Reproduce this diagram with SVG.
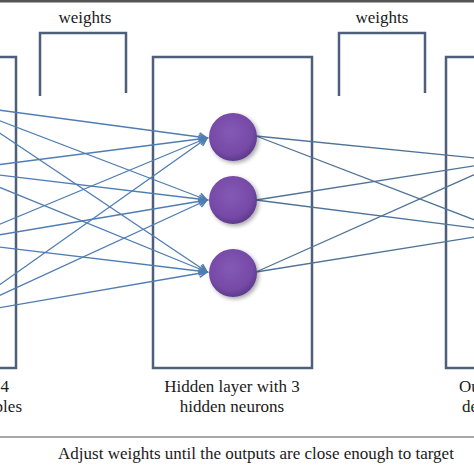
<svg xmlns="http://www.w3.org/2000/svg" width="474" height="474" viewBox="0 0 474 474">
  <style>
    .box { fill: none; stroke: #4e5f7c; stroke-width: 2.5; }
    .br { fill: none; stroke: #4e5f7c; stroke-width: 2.5; }
    .w { stroke: #4f7db2; stroke-width: 1.3; fill: none; }
    .wo { stroke: #4f7396; stroke-width: 1.3; fill: none; }
    .t { font-family: "Liberation Serif", "Times New Roman", serif; font-size: 17px; fill: #1a1a1a; }
  </style>
  <defs>
    <radialGradient id="neu" cx="0.45" cy="0.4" r="0.6">
      <stop offset="0" stop-color="#8558b6"/>
      <stop offset="0.75" stop-color="#764aa6"/>
      <stop offset="1" stop-color="#5e3a8e"/>
    </radialGradient>
    <filter id="sh" x="-30%" y="-30%" width="170%" height="170%">
      <feGaussianBlur in="SourceAlpha" stdDeviation="2"/>
      <feOffset dx="1.5" dy="2" result="b"/>
      <feComponentTransfer><feFuncA type="linear" slope="0.35"/></feComponentTransfer>
      <feMerge><feMergeNode/><feMergeNode in="SourceGraphic"/></feMerge>
    </filter>
    <marker id="arr" markerUnits="userSpaceOnUse" markerWidth="12" markerHeight="12" refX="9" refY="5" orient="auto">
      <path d="M1,1 L9,5 L1,9" fill="none" stroke="#4f7db2" stroke-width="1.6"/>
    </marker>
  </defs>

  <rect x="0" y="0" width="474" height="2.5" fill="#555"/>

  <g id="input-layer">
    <rect class="box" x="-20" y="57" width="36" height="311"/>
    <text class="t" x="9" y="392" text-anchor="end">4</text>
    <text class="t" x="22" y="412" text-anchor="end">ples</text>
  </g>

  <g id="hidden-layer">
    <rect class="box" x="153" y="57" width="159" height="311"/>
    <text class="t" x="232" y="392" text-anchor="middle">Hidden layer with 3</text>
    <text class="t" x="232" y="412" text-anchor="middle">hidden neurons</text>
  </g>

  <g id="output-layer">
    <rect class="box" x="446" y="57" width="60" height="311"/>
    <text class="t" x="459" y="392">Ou</text>
    <text class="t" x="462" y="412">de</text>
  </g>

  <g id="weights-1">
    <path class="br" d="M40,96 V33 H126 V93"/>
    <text class="t" x="85" y="23" text-anchor="middle">weights</text>
  </g>
  <g id="weights-2">
    <path class="br" d="M339,96 V33 H425 V93"/>
    <text class="t" x="382" y="23" text-anchor="middle">weights</text>
  </g>

  <g id="connectors">
    <g marker-end="url(#arr)">
      <line class="w" x1="-43" y1="104.5" x2="207" y2="138"/>
      <line class="w" x1="-43" y1="104.5" x2="207" y2="200"/>
      <line class="w" x1="-43" y1="104.5" x2="207" y2="272"/>
      <line class="w" x1="-43" y1="170" x2="207" y2="138"/>
      <line class="w" x1="-43" y1="170" x2="207" y2="200"/>
      <line class="w" x1="-43" y1="170" x2="207" y2="272"/>
      <line class="w" x1="-43" y1="242" x2="207" y2="138"/>
      <line class="w" x1="-43" y1="242" x2="207" y2="200"/>
      <line class="w" x1="-43" y1="242" x2="207" y2="272"/>
      <line class="w" x1="-43" y1="315" x2="207" y2="138"/>
      <line class="w" x1="-43" y1="315" x2="207" y2="200"/>
      <line class="w" x1="-43" y1="315" x2="207" y2="272"/>
    </g>
    <line class="wo" x1="256" y1="136" x2="505" y2="161"/>
    <line class="wo" x1="256" y1="200" x2="505" y2="161"/>
    <line class="wo" x1="256" y1="272" x2="505" y2="161"/>
    <line class="wo" x1="256" y1="136" x2="506" y2="232"/>
    <line class="wo" x1="256" y1="200" x2="506" y2="232"/>
    <line class="wo" x1="256" y1="272" x2="506" y2="232"/>
  </g>

  <g id="neuron-1"><circle cx="233" cy="137" r="24" fill="url(#neu)" filter="url(#sh)"/></g>
  <g id="neuron-2"><circle cx="233" cy="200" r="24" fill="url(#neu)" filter="url(#sh)"/></g>
  <g id="neuron-3"><circle cx="233" cy="273" r="24" fill="url(#neu)" filter="url(#sh)"/></g>

  <g id="footer">
    <line x1="0" y1="437" x2="474" y2="437" stroke="#8a8a8a" stroke-width="1.5"/>
    <text class="t" x="256" y="459" text-anchor="middle">Adjust weights until the outputs are close enough to target</text>
  </g>
</svg>
